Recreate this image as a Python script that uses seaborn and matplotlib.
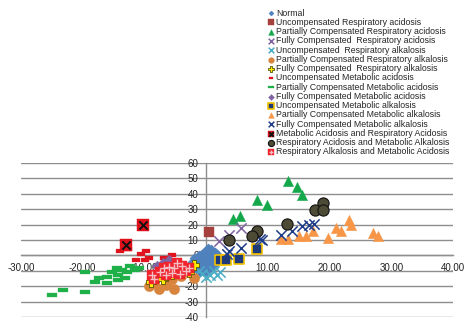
import numpy as np
import pandas as pd
import matplotlib
matplotlib.use("Agg")
import matplotlib.pyplot as plt
from matplotlib.path import Path
from matplotlib.ticker import FormatStrFormatter, MultipleLocator
import seaborn as sns

# ---- data ----
normal_x = [-2.3, -2.0, -1.7, -1.4, -1.1, -0.8, -0.5, -0.2, 0.1, 0.4, 0.7, 1.0, 1.3, 1.6, 1.9,
            -1.9, -1.5, -1.1, -0.7, -0.3, 0.1, 0.5, 0.9, 1.3, 1.7,
            -1.6, -1.2, -0.8, -0.4, 0.0, 0.4, 0.8, 1.2,
            -1.0, -0.5, 0.0, 0.5,
            0.3, 0.8, 1.4, -0.6, -0.1]
normal_y = [-4, -2, -5, -1, -7, 0, -9, -3, -6, 1, -2, 2, -4, 0, -1,
            -8, -3, -10, -5, 2, -8, -1, 3, -6, 1,
            -6, 0, -8, -2, -11, -4, 4, -3,
            -11, -7, 3, -9,
            5, -7, 2, 1, -1]
ura_x = [0.5]
ura_y = [15]
pcra_x = [13.2, 14.7, 15.5, 8.2, 9.9, 4.4, 5.5]
pcra_y = [48.5, 44.6, 39.5, 36.0, 32.8, 23.6, 25.6]
fcra_x = [2.1, 3.7, 5.6]
fcra_y = [9.5, 13.1, 17.7]
uralk_x = [-0.6, 0.6, 1.8, -1.2, 1.2, 2.3, 0.0]
uralk_y = [-12, -13, -13, -10, -10, -11, -14]
pcralk_x = [-9.2, -7.6, -5.2, -5.5, -1.9, -4.0, -8.4, -6.5]
pcralk_y = [-19.7, -21.6, -21.6, -15.0, -14.4, -13.5, -18.0, -19.5]
fcralk_x = [-9.0, -8.0, -7.0, -6.5, -4.4, -2.4, -2.8, -2.0, -5.5]
fcralk_y = [-17, -14, -15, -13, -10, -8.5, -11, -6, -12]
uma_x = [-14.0, -12.7, -11.3, -9.7, -10.5, -9.2, -6.8, -5.5, -9.9, -13.2]
uma_y = [2.6, 3.9, -3.3, 2.6, 0.7, -2.0, -2.0, 0.0, -3.3, 6.5]
pcma_x = [-25.0, -23.2, -19.7, -19.7, -18.0, -17.3, -16.0, -16.1, -15.3, -14.5,
          -14.3, -13.7, -12.9, -13.2, -14.3, -12.4, -10.8, -11.5]
pcma_y = [-26.0, -22.3, -23.6, -10.5, -17.0, -14.4, -17.7, -13.8, -10.5, -7.9,
          -12.5, -9.2, -10.5, -14.4, -16.0, -7.2, -8.5, -9.5]
fcma_x = [-8.0, -6.0, -7.0]
fcma_y = [-7.2, -3.3, -5.0]
umalk_x = [2.2, 3.2, 5.4, 8.2]
umalk_y = [-3.3, -3.3, -2.6, 3.9]
pcmalk_x = [23.2, 23.4, 21.0, 21.8, 27.1, 27.9, 19.7, 17.3, 16.1, 15.0, 13.2, 12.1]
pcmalk_y = [23.0, 20.0, 17.7, 15.7, 14.4, 12.5, 11.1, 15.7, 12.5, 12.5, 10.5, 10.5]
fcmalk_x = [12.1, 13.9, 15.6, 16.6, 17.4, 9.0, 5.6, 3.7, 3.4, 8.7]
fcmalk_y = [13.1, 15.7, 19.0, 19.7, 20.3, 9.8, 4.6, 2.6, 0.7, 10.5]
mara_x = [-10.3, -13.0]
mara_y = [19.7, 6.6]
rama_x = [19.0, 17.6, 18.9, 13.1, 8.2, 7.4, 3.7]
rama_y = [34.0, 29.5, 29.5, 20.3, 15.7, 12.5, 9.8]
rama2_x = [-8.7, -8.5, -6.8, -6.0, -5.2, -4.8, -3.9, -3.3, -6.5, -5.5, -7.5, -4.2, -2.8]
rama2_y = [-13, -15.5, -8.5, -7.5, -8.5, -5.2, -7.2, -10, -13, -11.5, -11, -12, -8]

series = [
    ("Normal", normal_x, normal_y),
    ("Uncompensated Respiratory acidosis", ura_x, ura_y),
    ("Partially Compensated Respiratory acidosis", pcra_x, pcra_y),
    ("Fully Compensated  Respiratory acidosis", fcra_x, fcra_y),
    ("Uncompensated  Respiratory alkalosis", uralk_x, uralk_y),
    ("Partially Compensated Respiratory alkalosis", pcralk_x, pcralk_y),
    ("Fully Compensated  Respiratory alkalosis", fcralk_x, fcralk_y),
    ("Uncompensated Metabolic acidosis", uma_x, uma_y),
    ("Partially Compensated Metabolic acidosis", pcma_x, pcma_y),
    ("Fully Compensated Metabolic acidosis", fcma_x, fcma_y),
    ("Uncompensated Metabolic alkalosis", umalk_x, umalk_y),
    ("Partially Compensated Metabolic alkalosis", pcmalk_x, pcmalk_y),
    ("Fully Compensated Metabolic alkalosis", fcmalk_x, fcmalk_y),
    ("Metabolic Acidosis and Respiratory Acidosis", mara_x, mara_y),
    ("Respiratory Acidosis and Metabolic Alkalosis", rama_x, rama_y),
    ("Respiratory Alkalosis and Metabolic Acidosis", rama2_x, rama2_y),
]

# ---- styles ----
dash = Path([(-1, -0.38), (1, -0.38), (1, 0.38), (-1, 0.38), (-1, -0.38)],
            [Path.MOVETO, Path.LINETO, Path.LINETO, Path.LINETO, Path.CLOSEPOLY])

styles = [
    [dict(marker="D", s=22, color="#4f81bd", edgecolor="#4f81bd", linewidth=0.3)],
    [dict(marker="s", s=45, color="#a5403d", edgecolor="#a5403d", linewidth=0.3)],
    [dict(marker="^", s=55, color="#14a84b", edgecolor="#14a84b", linewidth=0.3)],
    [dict(marker="x", s=55, color="#8064a2", linewidth=1.1)],
    [dict(marker="x", s=55, color="#4bacc6", linewidth=1.1)],
    [dict(marker="o", s=55, color="#d9843c", edgecolor="#d9843c", linewidth=0.3)],
    [dict(marker="P", s=55, color="#ffee00", edgecolor="#55550a", linewidth=0.6)],
    [dict(marker=dash, s=40, color="#e0141e", edgecolor="#e0141e", linewidth=0.2)],
    [dict(marker=dash, s=50, color="#1fb04a", edgecolor="#1fb04a", linewidth=0.2)],
    [dict(marker="D", s=30, color="#8064a2", edgecolor="#8064a2", linewidth=0.3)],
    [dict(marker="s", s=45, color="#1f3a78", edgecolor="#f2c200", linewidth=1.2)],
    [dict(marker="^", s=55, color="#f79646", edgecolor="#f79646", linewidth=0.3)],
    [dict(marker="x", s=55, color="#1f3c88", linewidth=1.1)],
    [dict(marker="s", s=70, color="#e0101a", edgecolor="#e0101a", linewidth=0.3),
     dict(marker="x", s=35, color="#111111", linewidth=1.4)],
    [dict(marker="o", s=65, color="#4d4a35", edgecolor="#111111", linewidth=0.8)],
    [dict(marker="s", s=60, color="#f0232d", edgecolor="#f0232d", linewidth=0.3),
     dict(marker="+", s=40, color="#f4c0c6", linewidth=1.0)],
]

sns.set_style("white")
plt.rcParams["font.family"] = ["Liberation Sans", "DejaVu Sans"]

fig = plt.figure(figsize=(4.74, 3.34), dpi=100)
ax = fig.add_axes([0.0443, 0.0509, 0.9114, 0.461])

handles, labels = [], []
for i, ((name, xs, ys), sty) in enumerate(zip(series, styles)):
    df = pd.DataFrame({"x": xs, "y": ys})
    parts = []
    for j, st in enumerate(sty):
        sns.scatterplot(data=df, x="x", y="y", ax=ax, legend=False,
                        zorder=3 + i * 0.1 + j * 0.01, clip_on=False, **st)
        parts.append(ax.collections[-1])
    handles.append(tuple(parts) if len(parts) > 1 else parts[0])
    labels.append(name)

ax.set_xlim(-30, 40)
ax.set_ylim(-40, 60)
ax.xaxis.set_major_locator(MultipleLocator(10))
ax.yaxis.set_major_locator(MultipleLocator(10))
ax.xaxis.set_major_formatter(FormatStrFormatter("%.2f"))
ax.yaxis.set_major_formatter(FormatStrFormatter("%d"))
ax.set_xlabel("")
ax.set_ylabel("")

ax.yaxis.grid(True, color="#8e8e8e", linewidth=1.0)
ax.xaxis.grid(False)
ax.set_axisbelow(True)

for side in ["top", "right"]:
    ax.spines[side].set_visible(False)
ax.spines["left"].set_position(("data", 0))
ax.spines["bottom"].set_position(("data", 0))
for side in ["left", "bottom"]:
    ax.spines[side].set_color("#8e8e8e")
    ax.spines[side].set_linewidth(1.0)
    ax.spines[side].set_zorder(1)

ax.tick_params(axis="both", which="major", direction="out", length=3.5,
               width=0.8, color="#8e8e8e", labelsize=7, labelcolor="#222222", pad=2)

fig.legend(handles, labels, loc="upper left", bbox_to_anchor=(0.558, 0.985),
           frameon=False, fontsize=6.3, handlelength=0.6, handletextpad=0.3,
           labelspacing=0.03, borderaxespad=0, markerscale=0.55)

fig.savefig("out.png", dpi=100)
